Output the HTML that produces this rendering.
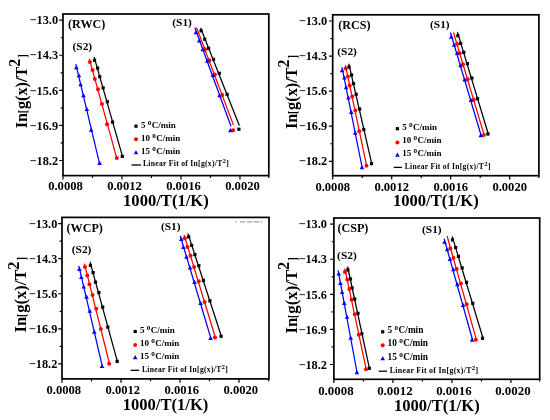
<!DOCTYPE html>
<html><head><meta charset="utf-8"><title>ln[g(x)/T2] vs 1000/T</title>
<style>
html,body{margin:0;padding:0;background:#fff;}
body{width:550px;height:420px;overflow:hidden;}
svg{display:block;}
text{font-family:'Liberation Serif', 'Times New Roman', serif;font-weight:bold;fill:#000;}
.tl{font-size:12.3px;}
.xl{font-size:12.6px;}
.xt{font-size:16.6px;}
.yt{font-size:16.3px;}
.pl{font-size:12.1px;}
.sl{font-size:11.4px;}
.lg{font-size:9px;}
.lf{font-size:7.6px;letter-spacing:0.3px;}
.deg{font-size:7.2px;}
.sup{font-size:6.84px;}
.brk{font-size:12.7px;}
.yt2{font-size:16px;}
</style></head>
<body><svg width="550" height="420" viewBox="0 0 550 420">
<rect width="550" height="420" fill="#fff"/>
<path d="M94.24 57.3L122.48 156.4" stroke="#000" stroke-width="1.25" stroke-linecap="round"/>
<rect x="92.9" y="58.7" width="3.2" height="3.2" fill="#000"/>
<rect x="96.01" y="66.5" width="3.2" height="3.2" fill="#000"/>
<rect x="98.13" y="75.1" width="3.2" height="3.2" fill="#000"/>
<rect x="101.53" y="86.3" width="3.2" height="3.2" fill="#000"/>
<rect x="105.79" y="100.1" width="3.2" height="3.2" fill="#000"/>
<rect x="110.95" y="120.5" width="3.2" height="3.2" fill="#000"/>
<rect x="120.69" y="154.8" width="3.2" height="3.2" fill="#000"/>
<path d="M89.38 59.1L116.72 157.9" stroke="#f00" stroke-width="1.25" stroke-linecap="round"/>
<circle cx="89.91" cy="62.1" r="2" fill="#f00"/>
<circle cx="92.65" cy="70" r="2" fill="#f00"/>
<circle cx="94.79" cy="79" r="2" fill="#f00"/>
<circle cx="98.02" cy="89.3" r="2" fill="#f00"/>
<circle cx="101.95" cy="104" r="2" fill="#f00"/>
<circle cx="107.06" cy="124.3" r="2" fill="#f00"/>
<circle cx="116.81" cy="157.9" r="2" fill="#f00"/>
<path d="M75.94 64.6L99.5 163.3" stroke="#00f" stroke-width="1.25" stroke-linecap="round"/>
<polygon points="76.38,65.12 74.08,69.26 78.68,69.26" fill="#00f"/>
<polygon points="78.94,73.22 76.64,77.36 81.24,77.36" fill="#00f"/>
<polygon points="80.57,82.22 78.27,86.36 82.87,86.36" fill="#00f"/>
<polygon points="83.48,93.22 81.18,97.36 85.78,97.36" fill="#00f"/>
<polygon points="86.85,106.82 84.55,110.96 89.15,110.96" fill="#00f"/>
<polygon points="91.17,127.52 88.87,131.66 93.47,131.66" fill="#00f"/>
<polygon points="99.6,160.82 97.3,164.96 101.9,164.96" fill="#00f"/>
<path d="M200.7 28.3L239.2 125.2" stroke="#000" stroke-width="1.25" stroke-linecap="round"/>
<rect x="199.5" y="29.2" width="3.2" height="3.2" fill="#000"/>
<rect x="203.12" y="37.6" width="3.2" height="3.2" fill="#000"/>
<rect x="206.97" y="46.7" width="3.2" height="3.2" fill="#000"/>
<rect x="211.96" y="57.7" width="3.2" height="3.2" fill="#000"/>
<rect x="217.69" y="71.7" width="3.2" height="3.2" fill="#000"/>
<rect x="225.51" y="92.7" width="3.2" height="3.2" fill="#000"/>
<rect x="237.3" y="127.6" width="3.2" height="3.2" fill="#000"/>
<path d="M196.7 28L233.3 124.6" stroke="#f00" stroke-width="1.25" stroke-linecap="round"/>
<circle cx="204.92" cy="49.2" r="2" fill="#f00"/>
<circle cx="209.4" cy="60.2" r="2" fill="#f00"/>
<circle cx="214.81" cy="74.5" r="2" fill="#f00"/>
<circle cx="222.31" cy="95.1" r="2" fill="#f00"/>
<circle cx="233.1" cy="130.2" r="2" fill="#f00"/>
<path d="M195 28L230.8 125.8" stroke="#00f" stroke-width="1.25" stroke-linecap="round"/>
<polygon points="195.91,30.22 193.61,34.36 198.21,34.36" fill="#00f"/>
<polygon points="199.21,38.42 196.91,42.56 201.51,42.56" fill="#00f"/>
<polygon points="202.74,47.02 200.44,51.16 205.04,51.16" fill="#00f"/>
<polygon points="207.29,58.52 204.99,62.66 209.59,62.66" fill="#00f"/>
<polygon points="212.93,72.92 210.63,77.06 215.23,77.06" fill="#00f"/>
<polygon points="219.54,93.22 217.24,97.36 221.84,97.36" fill="#00f"/>
<polygon points="230.4,128.02 228.1,132.16 232.7,132.16" fill="#00f"/>
<rect x="63" y="14" width="205.8" height="161.6" fill="none" stroke="#000" stroke-width="1.7"/>
<text x="58.1" y="24.4" text-anchor="end" class="tl">−13.0</text>
<text x="58.1" y="59.47" text-anchor="end" class="tl">−14.3</text>
<text x="58.1" y="94.54" text-anchor="end" class="tl">−15.6</text>
<text x="58.1" y="129.61" text-anchor="end" class="tl">−16.9</text>
<text x="58.1" y="164.68" text-anchor="end" class="tl">−18.2</text>
<text x="65.5" y="190.4" text-anchor="middle" class="xl">0.0008</text>
<text x="124.5" y="190.4" text-anchor="middle" class="xl">0.0012</text>
<text x="183.5" y="190.4" text-anchor="middle" class="xl">0.0016</text>
<text x="242.5" y="190.4" text-anchor="middle" class="xl">0.0020</text>
<path d="M63 20.2H59.2M63 37.73H60.7M63 55.27H59.2M63 72.8H60.7M63 90.34H59.2M63 107.88H60.7M63 125.41H59.2M63 142.95H60.7M63 160.48H59.2M63 175.6V179.4M92.5 175.6V177.9M122 175.6V179.4M151.5 175.6V177.9M181 175.6V179.4M210.5 175.6V177.9M240 175.6V179.4M268.8 175.6V177.9" stroke="#000" stroke-width="1.2" fill="none"/>
<text x="165.9" y="206.2" text-anchor="middle" class="xt">1000/T(1/K)</text>
<text transform="translate(26.8 127.8) rotate(-90)" class="yt"><tspan x="-0.5">In</tspan><tspan x="18.7">g(x)/T</tspan><tspan x="61" y="-7.1" class="yt2">2</tspan></text>
<text transform="translate(26.8 127.8) rotate(-90) translate(16.2 0.5) scale(0.8 1)" text-anchor="middle" class="brk">[</text>
<text transform="translate(26.8 127.8) rotate(-90) translate(71.7 0.5) scale(0.8 1)" text-anchor="middle" class="brk">]</text>
<text x="68.1" y="28.2" class="pl">(RWC)</text>
<text x="72.5" y="50.4" class="sl">(S2)</text>
<text x="172.3" y="25.5" class="sl">(S1)</text>
<rect x="134.4" y="124.6" width="3.2" height="3.2" fill="#000"/>
<text x="141" y="127.6" class="lg">5 <tspan class="deg" dy="-3">o</tspan><tspan dx="0.4" dy="3">C/min</tspan></text>
<circle cx="136" cy="139.3" r="2" fill="#f00"/>
<text x="141" y="140.7" class="lg">10 <tspan class="deg" dy="-3">o</tspan><tspan dx="0.4" dy="3">C/min</tspan></text>
<polygon points="136,150.22 133.7,154.36 138.3,154.36" fill="#00f"/>
<text x="141" y="153.8" class="lg">15 <tspan class="deg" dy="-3">o</tspan><tspan dx="0.4" dy="3">C/min</tspan></text>
<path d="M131.5 165H141" stroke="#000" stroke-width="1.3"/>
<text x="143" y="166.3" class="lf">Linear Fit of In[g(x)/T<tspan dy="-3.2" class="sup">2</tspan><tspan dy="3.2">]</tspan></text>
<path d="M348.92 64.1L371.73 163.7" stroke="#000" stroke-width="1.25" stroke-linecap="round"/>
<rect x="347.41" y="65.5" width="3.2" height="3.2" fill="#000"/>
<rect x="349.96" y="73.4" width="3.2" height="3.2" fill="#000"/>
<rect x="351.89" y="82" width="3.2" height="3.2" fill="#000"/>
<rect x="354.52" y="92.7" width="3.2" height="3.2" fill="#000"/>
<rect x="358" y="107.4" width="3.2" height="3.2" fill="#000"/>
<rect x="362.2" y="127.9" width="3.2" height="3.2" fill="#000"/>
<rect x="369.92" y="162.1" width="3.2" height="3.2" fill="#000"/>
<path d="M345.54 65.6L366.63 165.8" stroke="#f00" stroke-width="1.25" stroke-linecap="round"/>
<circle cx="345.74" cy="68.6" r="2" fill="#f00"/>
<circle cx="347.96" cy="76.4" r="2" fill="#f00"/>
<circle cx="349.71" cy="85.4" r="2" fill="#f00"/>
<circle cx="352.21" cy="96.4" r="2" fill="#f00"/>
<circle cx="355.34" cy="110.4" r="2" fill="#f00"/>
<circle cx="359.29" cy="131.3" r="2" fill="#f00"/>
<circle cx="366.47" cy="165.8" r="2" fill="#f00"/>
<path d="M342.07 67.7L362.14 167.5" stroke="#00f" stroke-width="1.25" stroke-linecap="round"/>
<polygon points="342.09,68.22 339.79,72.36 344.39,72.36" fill="#00f"/>
<polygon points="344.41,75.42 342.11,79.56 346.71,79.56" fill="#00f"/>
<polygon points="346.09,85.12 343.79,89.26 348.39,89.26" fill="#00f"/>
<polygon points="348.37,95.42 346.07,99.56 350.67,99.56" fill="#00f"/>
<polygon points="351.27,109.82 348.97,113.96 353.57,113.96" fill="#00f"/>
<polygon points="355.25,130.52 352.95,134.66 357.55,134.66" fill="#00f"/>
<polygon points="361.92,165.02 359.62,169.16 364.22,169.16" fill="#00f"/>
<path d="M457.51 32.4L488.31 134" stroke="#000" stroke-width="1.25" stroke-linecap="round"/>
<rect x="456.25" y="34.1" width="3.2" height="3.2" fill="#000"/>
<rect x="459.07" y="41.8" width="3.2" height="3.2" fill="#000"/>
<rect x="462.17" y="50.7" width="3.2" height="3.2" fill="#000"/>
<rect x="465.83" y="62" width="3.2" height="3.2" fill="#000"/>
<rect x="470.27" y="76.4" width="3.2" height="3.2" fill="#000"/>
<rect x="475.95" y="97.1" width="3.2" height="3.2" fill="#000"/>
<rect x="486.35" y="132.4" width="3.2" height="3.2" fill="#000"/>
<path d="M453.63 33L484.09 134.9" stroke="#f00" stroke-width="1.25" stroke-linecap="round"/>
<circle cx="457.06" cy="44" r="2" fill="#f00"/>
<circle cx="459.79" cy="53.2" r="2" fill="#f00"/>
<circle cx="462.94" cy="64.3" r="2" fill="#f00"/>
<circle cx="467.67" cy="79.2" r="2" fill="#f00"/>
<circle cx="473.68" cy="99.7" r="2" fill="#f00"/>
<circle cx="483.9" cy="134.9" r="2" fill="#f00"/>
<path d="M450.61 33L481.15 135.5" stroke="#00f" stroke-width="1.25" stroke-linecap="round"/>
<polygon points="451.27,34.62 448.97,38.76 453.57,38.76" fill="#00f"/>
<polygon points="454.07,42.72 451.77,46.86 456.37,46.86" fill="#00f"/>
<polygon points="457.2,50.92 454.9,55.06 459.5,55.06" fill="#00f"/>
<polygon points="460.53,63.22 458.23,67.36 462.83,67.36" fill="#00f"/>
<polygon points="464.68,77.32 462.38,81.46 466.98,81.46" fill="#00f"/>
<polygon points="470.98,97.82 468.68,101.96 473.28,101.96" fill="#00f"/>
<polygon points="480.78,133.02 478.48,137.16 483.08,137.16" fill="#00f"/>
<rect x="332.7" y="14.8" width="206.2" height="160.9" fill="none" stroke="#000" stroke-width="1.7"/>
<text x="327.2" y="25.2" text-anchor="end" class="tl">−13.0</text>
<text x="327.2" y="60.27" text-anchor="end" class="tl">−14.3</text>
<text x="327.2" y="95.34" text-anchor="end" class="tl">−15.6</text>
<text x="327.2" y="130.41" text-anchor="end" class="tl">−16.9</text>
<text x="327.2" y="165.48" text-anchor="end" class="tl">−18.2</text>
<text x="332.7" y="190.5" text-anchor="middle" class="xl">0.0008</text>
<text x="391.7" y="190.5" text-anchor="middle" class="xl">0.0012</text>
<text x="450.7" y="190.5" text-anchor="middle" class="xl">0.0016</text>
<text x="509.7" y="190.5" text-anchor="middle" class="xl">0.0020</text>
<path d="M332.7 21H328.9M332.7 38.53H330.4M332.7 56.07H328.9M332.7 73.61H330.4M332.7 91.14H328.9M332.7 108.67H330.4M332.7 126.21H328.9M332.7 143.75H330.4M332.7 161.28H328.9M332.7 175.7V179.5M362.2 175.7V178M391.7 175.7V179.5M421.2 175.7V178M450.7 175.7V179.5M480.2 175.7V178M509.7 175.7V179.5M538.9 175.7V178" stroke="#000" stroke-width="1.2" fill="none"/>
<text x="435.8" y="206" text-anchor="middle" class="xt">1000/T(1/K)</text>
<text transform="translate(296.5 128.6) rotate(-90)" class="yt"><tspan x="-0.5">In</tspan><tspan x="18.7">g(x)/T</tspan><tspan x="61" y="-7.1" class="yt2">2</tspan></text>
<text transform="translate(296.5 128.6) rotate(-90) translate(16.2 0.5) scale(0.8 1)" text-anchor="middle" class="brk">[</text>
<text transform="translate(296.5 128.6) rotate(-90) translate(71.7 0.5) scale(0.8 1)" text-anchor="middle" class="brk">]</text>
<text x="338.2" y="29.4" class="pl">(RCS)</text>
<text x="337.3" y="54.6" class="sl">(S2)</text>
<text x="430" y="28.4" class="sl">(S1)</text>
<rect x="395.8" y="127.1" width="3.2" height="3.2" fill="#000"/>
<text x="402.3" y="130.3" class="lg">5 <tspan class="deg" dy="-3">o</tspan><tspan dx="0.4" dy="3">C/min</tspan></text>
<circle cx="397.4" cy="142.4" r="2" fill="#f00"/>
<text x="402.3" y="143.2" class="lg">10 <tspan class="deg" dy="-3">o</tspan><tspan dx="0.4" dy="3">C/min</tspan></text>
<polygon points="397.4,152.62 395.1,156.76 399.7,156.76" fill="#00f"/>
<text x="402.3" y="156.1" class="lg">15 <tspan class="deg" dy="-3">o</tspan><tspan dx="0.4" dy="3">C/min</tspan></text>
<path d="M393.7 167.4H402" stroke="#000" stroke-width="1.3"/>
<text x="404.7" y="168.9" class="lf">Linear Fit of In[g(x)/T<tspan dy="-3.2" class="sup">2</tspan><tspan dy="3.2">]</tspan></text>
<path d="M90.14 262.4L117.35 361.4" stroke="#000" stroke-width="1.25" stroke-linecap="round"/>
<rect x="88.83" y="263.8" width="3.2" height="3.2" fill="#000"/>
<rect x="91.52" y="271" width="3.2" height="3.2" fill="#000"/>
<rect x="93.88" y="280.5" width="3.2" height="3.2" fill="#000"/>
<rect x="97.27" y="291" width="3.2" height="3.2" fill="#000"/>
<rect x="101.1" y="305.4" width="3.2" height="3.2" fill="#000"/>
<rect x="106.21" y="325.5" width="3.2" height="3.2" fill="#000"/>
<rect x="115.58" y="359.8" width="3.2" height="3.2" fill="#000"/>
<path d="M84.52 264.1L109.51 363.75" stroke="#f00" stroke-width="1.25" stroke-linecap="round"/>
<circle cx="84.99" cy="267.1" r="2" fill="#f00"/>
<circle cx="87.23" cy="275.4" r="2" fill="#f00"/>
<circle cx="89.44" cy="284.3" r="2" fill="#f00"/>
<circle cx="92.59" cy="295" r="2" fill="#f00"/>
<circle cx="96.22" cy="308.8" r="2" fill="#f00"/>
<circle cx="100.84" cy="328.9" r="2" fill="#f00"/>
<circle cx="109.2" cy="363.75" r="2" fill="#f00"/>
<path d="M78.95 266.3L102.33 366.4" stroke="#00f" stroke-width="1.25" stroke-linecap="round"/>
<polygon points="79.37,266.82 77.07,270.96 81.67,270.96" fill="#00f"/>
<polygon points="81.32,274.92 79.02,279.06 83.62,279.06" fill="#00f"/>
<polygon points="83.68,284.42 81.38,288.56 85.98,288.56" fill="#00f"/>
<polygon points="86.56,294.52 84.26,298.66 88.86,298.66" fill="#00f"/>
<polygon points="89.81,308.62 87.51,312.76 92.11,312.76" fill="#00f"/>
<polygon points="94.3,329.52 92,333.66 96.6,333.66" fill="#00f"/>
<polygon points="102.06,363.92 99.76,368.06 104.36,368.06" fill="#00f"/>
<path d="M188.06 233.9L221.36 336.3" stroke="#000" stroke-width="1.25" stroke-linecap="round"/>
<rect x="187.07" y="235.3" width="3.2" height="3.2" fill="#000"/>
<rect x="190" y="243.8" width="3.2" height="3.2" fill="#000"/>
<rect x="193.3" y="253" width="3.2" height="3.2" fill="#000"/>
<rect x="197.25" y="264.1" width="3.2" height="3.2" fill="#000"/>
<rect x="201.79" y="278.8" width="3.2" height="3.2" fill="#000"/>
<rect x="208.31" y="299.2" width="3.2" height="3.2" fill="#000"/>
<rect x="219.48" y="334.7" width="3.2" height="3.2" fill="#000"/>
<path d="M184.23 235.3L215.35 337.5" stroke="#f00" stroke-width="1.25" stroke-linecap="round"/>
<circle cx="184.87" cy="238.3" r="2" fill="#f00"/>
<circle cx="187.43" cy="246.9" r="2" fill="#f00"/>
<circle cx="190.57" cy="255.7" r="2" fill="#f00"/>
<circle cx="194.08" cy="266.9" r="2" fill="#f00"/>
<circle cx="198.7" cy="281.2" r="2" fill="#f00"/>
<circle cx="204.62" cy="302" r="2" fill="#f00"/>
<circle cx="215.02" cy="337.5" r="2" fill="#f00"/>
<path d="M180.41 236.3L210.86 338.3" stroke="#00f" stroke-width="1.25" stroke-linecap="round"/>
<polygon points="181.35,236.82 179.05,240.96 183.65,240.96" fill="#00f"/>
<polygon points="183.31,244.92 181.01,249.06 185.61,249.06" fill="#00f"/>
<polygon points="186.51,254.62 184.21,258.76 188.81,258.76" fill="#00f"/>
<polygon points="190.07,265.42 187.77,269.56 192.37,269.56" fill="#00f"/>
<polygon points="194.47,279.82 192.17,283.96 196.77,283.96" fill="#00f"/>
<polygon points="200.61,300.82 198.31,304.96 202.91,304.96" fill="#00f"/>
<polygon points="210.58,335.82 208.28,339.96 212.88,339.96" fill="#00f"/>
<rect x="62" y="217.4" width="207" height="161.5" fill="none" stroke="#000" stroke-width="1.7"/>
<text x="57.3" y="227.8" text-anchor="end" class="tl">−13.0</text>
<text x="57.3" y="262.87" text-anchor="end" class="tl">−14.3</text>
<text x="57.3" y="297.94" text-anchor="end" class="tl">−15.6</text>
<text x="57.3" y="333.01" text-anchor="end" class="tl">−16.9</text>
<text x="57.3" y="368.08" text-anchor="end" class="tl">−18.2</text>
<text x="63.8" y="393.8" text-anchor="middle" class="xl">0.0008</text>
<text x="122.8" y="393.8" text-anchor="middle" class="xl">0.0012</text>
<text x="181.8" y="393.8" text-anchor="middle" class="xl">0.0016</text>
<text x="240.8" y="393.8" text-anchor="middle" class="xl">0.0020</text>
<path d="M62 223.6H58.2M62 241.13H59.7M62 258.67H58.2M62 276.21H59.7M62 293.74H58.2M62 311.28H59.7M62 328.81H58.2M62 346.35H59.7M62 363.88H58.2M62 378.9V382.7M91.5 378.9V381.2M121 378.9V382.7M150.5 378.9V381.2M180 378.9V382.7M209.5 378.9V381.2M239 378.9V382.7M268.5 378.9V381.2" stroke="#000" stroke-width="1.2" fill="none"/>
<text x="165.5" y="409.6" text-anchor="middle" class="xt">1000/T(1/K)</text>
<text transform="translate(25.9 331.9) rotate(-90) scale(1.02)" class="yt"><tspan x="-0.5">In</tspan><tspan x="18.7">g(x)/T</tspan><tspan x="61" y="-7.1" class="yt2">2</tspan></text>
<text transform="translate(25.9 331.9) rotate(-90) scale(1.02) translate(16.2 0.5) scale(0.8 1)" text-anchor="middle" class="brk">[</text>
<text transform="translate(25.9 331.9) rotate(-90) scale(1.02) translate(71.7 0.5) scale(0.8 1)" text-anchor="middle" class="brk">]</text>
<text x="66.6" y="232.4" class="pl">(WCP)</text>
<text x="71.8" y="253.4" class="sl">(S2)</text>
<text x="160.9" y="229.7" class="sl">(S1)</text>
<rect x="133.6" y="329.9" width="3.2" height="3.2" fill="#000"/>
<text x="139.9" y="332.7" class="lg">5 <tspan class="deg" dy="-3">o</tspan><tspan dx="0.4" dy="3">C/min</tspan></text>
<circle cx="135.2" cy="344.9" r="2" fill="#f00"/>
<text x="139.9" y="345.8" class="lg">10 <tspan class="deg" dy="-3">o</tspan><tspan dx="0.4" dy="3">C/min</tspan></text>
<polygon points="135.2,355.12 132.9,359.26 137.5,359.26" fill="#00f"/>
<text x="139.9" y="358.5" class="lg">15 <tspan class="deg" dy="-3">o</tspan><tspan dx="0.4" dy="3">C/min</tspan></text>
<path d="M130.5 370.3H139.2" stroke="#000" stroke-width="1.3"/>
<text x="142" y="372" class="lf">Linear Fit of In[g(x)/T<tspan dy="-3.2" class="sup">2</tspan><tspan dy="3.2">]</tspan></text>
<path d="M347.68 267L369.44 368.3" stroke="#000" stroke-width="1.25" stroke-linecap="round"/>
<rect x="346.26" y="268.4" width="3.2" height="3.2" fill="#000"/>
<rect x="348.88" y="277.4" width="3.2" height="3.2" fill="#000"/>
<rect x="350.53" y="286.3" width="3.2" height="3.2" fill="#000"/>
<rect x="353.18" y="297.4" width="3.2" height="3.2" fill="#000"/>
<rect x="356.36" y="311.7" width="3.2" height="3.2" fill="#000"/>
<rect x="360.27" y="332.2" width="3.2" height="3.2" fill="#000"/>
<rect x="367.72" y="366.7" width="3.2" height="3.2" fill="#000"/>
<path d="M344.88 268.9L366.19 369.2" stroke="#f00" stroke-width="1.25" stroke-linecap="round"/>
<circle cx="344.91" cy="271.9" r="2" fill="#f00"/>
<circle cx="347.28" cy="279.6" r="2" fill="#f00"/>
<circle cx="349.38" cy="289" r="2" fill="#f00"/>
<circle cx="351.66" cy="299.7" r="2" fill="#f00"/>
<circle cx="354.8" cy="314.2" r="2" fill="#f00"/>
<circle cx="358.78" cy="334.7" r="2" fill="#f00"/>
<circle cx="366" cy="369.2" r="2" fill="#f00"/>
<path d="M338.2 270.9L357.03 372.5" stroke="#00f" stroke-width="1.25" stroke-linecap="round"/>
<polygon points="338.68,271.42 336.38,275.56 340.98,275.56" fill="#00f"/>
<polygon points="340.4,280.82 338.1,284.96 342.7,284.96" fill="#00f"/>
<polygon points="342.14,289.92 339.84,294.06 344.44,294.06" fill="#00f"/>
<polygon points="344.25,300.82 341.95,304.96 346.55,304.96" fill="#00f"/>
<polygon points="347.04,314.72 344.74,318.86 349.34,318.86" fill="#00f"/>
<polygon points="350.72,335.52 348.42,339.66 353.02,339.66" fill="#00f"/>
<polygon points="356.86,370.02 354.56,374.16 359.16,374.16" fill="#00f"/>
<path d="M452.37 236.9L483.04 338.3" stroke="#000" stroke-width="1.25" stroke-linecap="round"/>
<rect x="450.84" y="238.3" width="3.2" height="3.2" fill="#000"/>
<rect x="454.05" y="246" width="3.2" height="3.2" fill="#000"/>
<rect x="456.83" y="254.8" width="3.2" height="3.2" fill="#000"/>
<rect x="460.57" y="266.3" width="3.2" height="3.2" fill="#000"/>
<rect x="464.95" y="280.7" width="3.2" height="3.2" fill="#000"/>
<rect x="471.13" y="301.7" width="3.2" height="3.2" fill="#000"/>
<rect x="480.92" y="336.7" width="3.2" height="3.2" fill="#000"/>
<path d="M447.22 236.5L476.35 339.7" stroke="#f00" stroke-width="1.25" stroke-linecap="round"/>
<circle cx="450.32" cy="248.6" r="2" fill="#f00"/>
<circle cx="453.43" cy="257.9" r="2" fill="#f00"/>
<circle cx="456.73" cy="268.9" r="2" fill="#f00"/>
<circle cx="460.96" cy="283.6" r="2" fill="#f00"/>
<circle cx="466.66" cy="304.2" r="2" fill="#f00"/>
<circle cx="475.82" cy="339.7" r="2" fill="#f00"/>
<path d="M444.25 239.1L472.59 340" stroke="#00f" stroke-width="1.25" stroke-linecap="round"/>
<polygon points="444.54,239.62 442.24,243.76 446.84,243.76" fill="#00f"/>
<polygon points="447.06,247.22 444.76,251.36 449.36,251.36" fill="#00f"/>
<polygon points="449.96,256.82 447.66,260.96 452.26,260.96" fill="#00f"/>
<polygon points="453.37,267.22 451.07,271.36 455.67,271.36" fill="#00f"/>
<polygon points="457.35,282.02 455.05,286.16 459.65,286.16" fill="#00f"/>
<polygon points="463.07,302.82 460.77,306.96 465.37,306.96" fill="#00f"/>
<polygon points="472.14,337.52 469.84,341.66 474.44,341.66" fill="#00f"/>
<rect x="333.9" y="218" width="205.8" height="161.3" fill="none" stroke="#000" stroke-width="1.7"/>
<text x="327" y="228.4" text-anchor="end" class="tl">−13.0</text>
<text x="327" y="263.47" text-anchor="end" class="tl">−14.3</text>
<text x="327" y="298.54" text-anchor="end" class="tl">−15.6</text>
<text x="327" y="333.61" text-anchor="end" class="tl">−16.9</text>
<text x="327" y="368.68" text-anchor="end" class="tl">−18.2</text>
<text x="335.9" y="394.8" text-anchor="middle" class="xl" style="font-size:12.9px">0.0008</text>
<text x="394.9" y="394.8" text-anchor="middle" class="xl" style="font-size:12.9px">0.0012</text>
<text x="453.9" y="394.8" text-anchor="middle" class="xl" style="font-size:12.9px">0.0016</text>
<text x="512.9" y="394.8" text-anchor="middle" class="xl" style="font-size:12.9px">0.0020</text>
<path d="M333.9 224.2H330.1M333.9 241.73H331.6M333.9 259.27H330.1M333.9 276.81H331.6M333.9 294.34H330.1M333.9 311.88H331.6M333.9 329.41H330.1M333.9 346.94H331.6M333.9 364.48H330.1M333.9 379.3V383.1M363.4 379.3V381.6M392.9 379.3V383.1M422.4 379.3V381.6M451.9 379.3V383.1M481.4 379.3V381.6M510.9 379.3V383.1M539.7 379.3V381.6" stroke="#000" stroke-width="1.2" fill="none"/>
<text x="436.8" y="410.6" text-anchor="middle" class="xt">1000/T(1/K)</text>
<text transform="translate(296.8 332.9) rotate(-90) scale(1.03)" class="yt"><tspan x="-0.5">In</tspan><tspan x="18.7">g(x)/T</tspan><tspan x="61" y="-7.1" class="yt2">2</tspan></text>
<text transform="translate(296.8 332.9) rotate(-90) scale(1.03) translate(16.2 0.5) scale(0.8 1)" text-anchor="middle" class="brk">[</text>
<text transform="translate(296.8 332.9) rotate(-90) scale(1.03) translate(71.7 0.5) scale(0.8 1)" text-anchor="middle" class="brk">]</text>
<text x="337.5" y="231.6" class="pl">(CSP)</text>
<text x="337.1" y="258.9" class="sl">(S2)</text>
<text x="422" y="232.7" class="sl">(S1)</text>
<rect x="381.1" y="330.2" width="3.2" height="3.2" fill="#000"/>
<text x="387.6" y="332.9" class="lg" style="font-size:9.31px">5 <tspan class="deg" dy="-3">o</tspan><tspan dx="0.4" dy="3">C/min</tspan></text>
<circle cx="382.7" cy="345.3" r="2" fill="#f00"/>
<text x="387.6" y="346.4" class="lg" style="font-size:9.31px">10 <tspan class="deg" dy="-3">o</tspan><tspan dx="0.4" dy="3">C/min</tspan></text>
<polygon points="382.7,356.02 380.4,360.16 385,360.16" fill="#00f"/>
<text x="387.6" y="359.6" class="lg" style="font-size:9.31px">15 <tspan class="deg" dy="-3">o</tspan><tspan dx="0.4" dy="3">C/min</tspan></text>
<path d="M378.7 371.2H387" stroke="#000" stroke-width="1.3"/>
<text x="389.7" y="372.9" class="lf" style="font-size:7.87px">Linear Fit of In[g(x)/T<tspan dy="-3.2" class="sup">2</tspan><tspan dy="3.2">]</tspan></text>
<g fill="#b4b4b4"><rect x="235.1" y="221" width="1.5" height="1.6"/><rect x="240" y="221" width="5.3" height="1.6"/><rect x="247.1" y="221" width="5.3" height="1.6"/><rect x="253.9" y="221" width="5.6" height="1.6"/><rect x="261" y="221" width="1.2" height="1.6"/></g>
</svg></body></html>
